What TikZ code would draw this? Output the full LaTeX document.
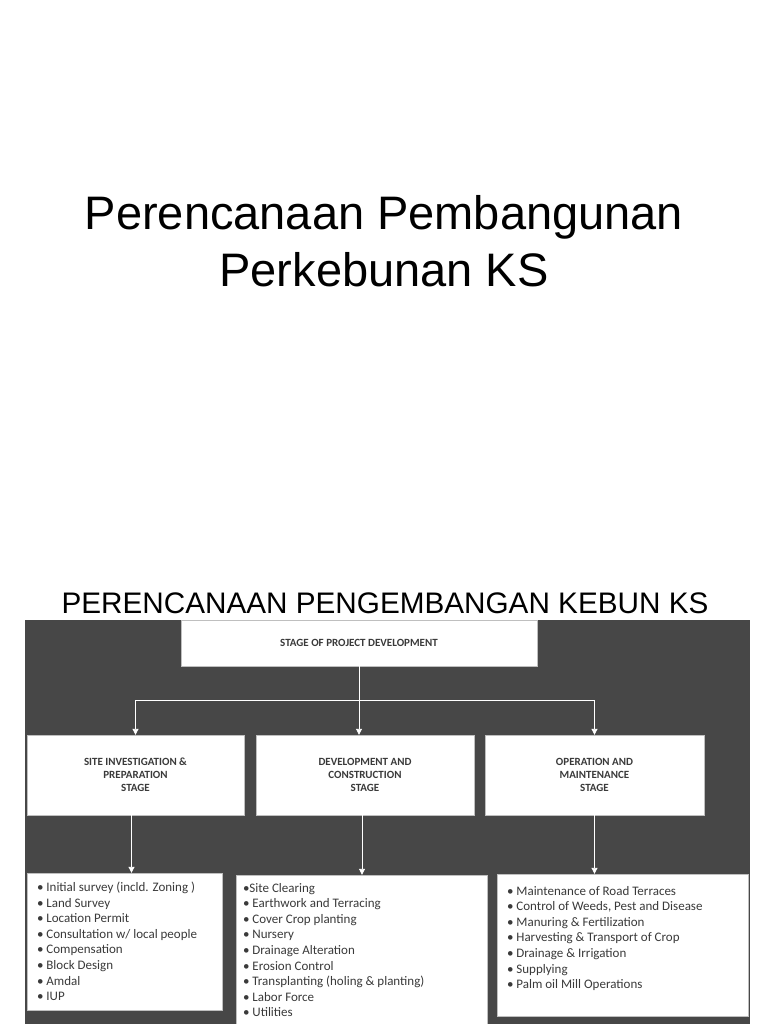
\documentclass[tikz,border=0pt]{standalone}
\usepackage{fontspec}
\setmainfont{Liberation Sans}
\newfontfamily\boxfont{Carlito}
\usepackage{tikz}
\usetikzlibrary{arrows.meta, positioning}
\definecolor{panelgray}{HTML}{474747}
\definecolor{boxtext}{HTML}{3A3A3A}

\begin{document}
\begin{tikzpicture}[x=1pt, y=-1pt,
    stagebox/.style={rectangle, draw=gray!50, fill=white, inner sep=0pt, text=boxtext,
        font=\boxfont\bfseries\fontsize{11}{13}\selectfont, align=center},
    listbox/.style={rectangle, draw=gray!50, fill=white, inner sep=0pt},
    listtext/.style={anchor=north west, inner sep=0pt, align=left, text=boxtext,
        font=\boxfont\fontsize{13}{15.6}\selectfont},
    flow/.style={white, line width=0.9pt, -{Triangle[width=6pt, length=6pt]}},
    wire/.style={white, line width=0.9pt}]
            \useasboundingbox (0,0) rectangle (768,1024);
            \fill[white] (0,0) rectangle (768,1024);

            % title slide
            \node[align=center, font=\fontsize{47}{57}\selectfont] at (384, 241) (slidetitle)
                {Perencanaan Pembangunan\\Perkebunan KS};

            % chart picture
            \node[font=\fontsize{29.7}{30}\selectfont] at (385, 603) (charttitle)
                {PERENCANAAN PENGEMBANGAN KEBUN KS};
            \fill[panelgray] (25, 620) rectangle (750, 1024);

            \node[stagebox, minimum width=356pt, minimum height=46pt] at (359, 643) (project)
                {STAGE OF PROJECT DEVELOPMENT};
            \node[stagebox, minimum width=217pt, minimum height=80pt] at (135.5, 775) (site)
                {SITE INVESTIGATION \&\\PREPARATION\\STAGE};
            \node[stagebox, minimum width=218pt, minimum height=80pt] at (365, 775) (dev)
                {DEVELOPMENT AND\\CONSTRUCTION\\STAGE};
            \node[stagebox, minimum width=219pt, minimum height=80pt] at (594.5, 775) (oper)
                {OPERATION AND\\MAINTENANCE\\STAGE};

            \node[listbox, minimum width=195pt, minimum height=137pt] at (124.5, 941.5) (sitelist) {};
            \node[listbox, minimum width=251pt, minimum height=165pt] at (361.5, 957.5) (devlist) {};
            \node[listbox, minimum width=251pt, minimum height=142pt] at (622.5, 945) (operlist) {};

            \node[listtext, xshift=10pt, yshift=-9pt] at (sitelist.north west) (siteitems)
                {• Initial survey (incld. Zoning )\\• Land Survey\\• Location Permit\\
                 • Consultation w/ local people\\• Compensation\\• Block Design\\• Amdal\\• IUP};
            \node[listtext, xshift=7pt, yshift=-8pt] at (devlist.north west) (devitems)
                {•Site Clearing\\• Earthwork and Terracing\\• Cover Crop planting\\• Nursery\\
                 • Drainage Alteration\\• Erosion Control\\• Transplanting (holing \& planting)\\
                 • Labor Force\\• Utilities};
            \node[listtext, xshift=10pt, yshift=-12pt] at (operlist.north west) (operitems)
                {• Maintenance of Road Terraces\\• Control of Weeds, Pest and Disease\\
                 • Manuring \& Fertilization\\• Harvesting \& Transport of Crop\\
                 • Drainage \& Irrigation\\• Supplying\\• Palm oil Mill Operations};

            % connectors
            \coordinate (split) at (359, 700);
            \draw[wire] (project.south) -- (split);
            \draw[wire] (split -| site.north) -- (split -| oper.north);
            \draw[flow] (split -| site.north) -- (site.north);
            \draw[flow] (split) -- (split |- dev.north);
            \draw[flow] (split -| oper.north) -- (oper.north);

            \draw[flow] ([xshift=-4pt]site.south) -- ([xshift=-4pt]site.south |- sitelist.north);
            \draw[flow] ([xshift=-3pt]dev.south) -- ([xshift=-3pt]dev.south |- devlist.north);
            \draw[flow] (oper.south) -- (oper.south |- operlist.north);
        \end{tikzpicture}
\end{document}
